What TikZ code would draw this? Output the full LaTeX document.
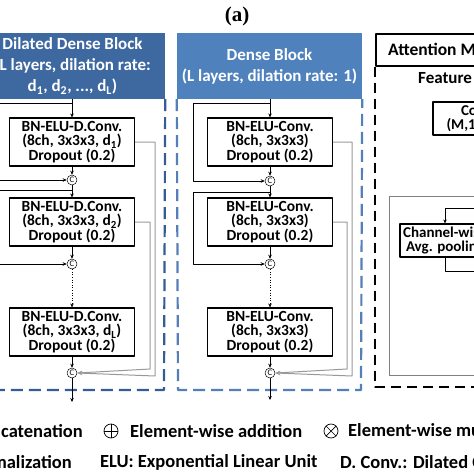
\documentclass[tikz,border=0pt]{standalone}
\usepackage{fontspec}
\setmainfont{Carlito}
\newfontfamily\capfont{Liberation Serif}
\usetikzlibrary{arrows.meta}
\definecolor{DDBblue}{RGB}{62,104,160}
\definecolor{DBblue}{RGB}{79,129,189}
\definecolor{DDBdash}{RGB}{52,92,150}
\definecolor{DBdash}{RGB}{84,128,184}

\begin{document}
\begin{tikzpicture}[x=1pt,y=-1pt,line join=round,
  hdr/.style={fill=#1,draw=none,text=white,align=center,minimum width=185,minimum height=66,inner sep=0pt,font=\bfseries\fontsize{17}{21}\selectfont},
  convbox/.style={draw,line width=1.2pt,fill=white,minimum width=125,minimum height=48,inner sep=0pt,align=center,font=\bfseries\fontsize{15.5}{14.5}\selectfont},
  attbox/.style={draw,line width=1.2pt,fill=white,minimum width=90,minimum height=33,inner sep=0pt,align=center,font=\bfseries\fontsize{15}{14}\selectfont},
  catnode/.style={circle,draw,line width=0.5pt,fill=white,minimum size=10,inner sep=0pt,font=\fontsize{8.5}{8.5}\selectfont},
  flow/.style={-{Stealth[length=4pt,width=3.5pt]},line width=0.6pt},
  skipline/.style={draw=gray!80,line width=1pt},
  bluedash/.style={draw=#1,line width=2.2pt,dash pattern=on 12pt off 6pt},
  blackdash/.style={draw=black,line width=2pt,dash pattern=on 10pt off 6pt},
  legend/.style={font=\bfseries\fontsize{18.5}{18.5}\selectfont,inner sep=0pt},
  opsym/.style={circle,draw,line width=0.7pt,minimum size=14,inner sep=0pt}]
\path[use as bounding box] (0,0) rectangle (474,474);
\clip (0,0) rectangle (474,474);

\node[font=\capfont\bfseries\fontsize{21}{21}\selectfont] (title) at (237,16) {(a)};

\node[hdr=DDBblue] (hdrA) at (72.5,66) {Dilated Dense Block\\(L layers, dilation rate:\\d\textsubscript{1}, d\textsubscript{2}, ..., d\textsubscript{L})};
\node[hdr=DBblue] (hdrB) at (269.5,66) {Dense Block\\(L layers, dilation rate: 1)};
\draw[bluedash=DDBdash] (hdrA.south east) -- (164,390) -- (-10,390);
\draw[bluedash=DBdash] (hdrB.south west) -- (178,390) -- (361,390) -- (hdrB.south east);

\node[convbox] (a1) at (72,142) {BN-ELU-D.Conv.\\(8ch, 3x3x3, d\textsubscript{1})\\Dropout (0.2)};
\node[convbox] (a2) at (72,222) {BN-ELU-D.Conv.\\(8ch, 3x3x3, d\textsubscript{2})\\Dropout (0.2)};
\node[convbox] (aL) at (72,332) {BN-ELU-D.Conv.\\(8ch, 3x3x3, d\textsubscript{L})\\Dropout (0.2)};
\node[catnode] (ac1) at (72,180) {C};
\node[catnode] (ac2) at (72,264) {C};
\node[catnode] (acf) at (72,373) {C};
\coordinate (aIn) at (72,103);
\coordinate (aJoin) at (72,190);
\coordinate (aOut) at (72,402);
\draw[flow] (hdrA.south -| aIn) -- (a1.north);
\draw[flow] (aIn) -- (-8,103) |- (ac1.west);
\draw[flow] (a1.south) -- (ac1.north);
\draw[flow] (ac1.south) -- (a2.north);
\draw[flow] (aJoin) -- (-8,190) |- (ac2.west);
\draw[flow] (a2.south) -- (ac2.north);
\draw[flow,dotted,line width=0.8pt] (ac2.south) -- (aL.north);
\draw[flow] (aL.south) -- (acf.north);
\draw[flow] (acf.south) -- (aOut);
\draw[skipline,-{Stealth[length=5pt,width=4pt]}] (a1.east) -- (155,142) -- (155,376) -- (acf.east);
\draw[skipline,-{Stealth[length=5pt,width=4pt]}] (a2.east) -- (150,222) -- (150,369) -- (acf.east);

\node[convbox] (b1) at (270,142) {BN-ELU-Conv.\\(8ch, 3x3x3)\\Dropout (0.2)};
\node[convbox] (b2) at (270,222) {BN-ELU-Conv.\\(8ch, 3x3x3)\\Dropout (0.2)};
\node[convbox] (bL) at (270,332) {BN-ELU-Conv.\\(8ch, 3x3x3)\\Dropout (0.2)};
\node[catnode] (bc1) at (270,181) {C};
\node[catnode] (bc2) at (270,264) {C};
\node[catnode] (bcf) at (270,373) {C};
\coordinate (bIn) at (270,103);
\coordinate (bJoin) at (270,192);
\coordinate (bOut) at (270,400);
\draw[flow] (hdrB.south -| bIn) -- (b1.north);
\draw[flow] (bIn) -- (193,103) |- (bc1.west);
\draw[flow] (b1.south) -- (bc1.north);
\draw[flow] (bc1.south) -- (b2.north);
\draw[flow] (bJoin) -- (193,192) |- (bc2.west);
\draw[flow] (b2.south) -- (bc2.north);
\draw[flow,dotted,line width=0.8pt] (bc2.south) -- (bL.north);
\draw[flow] (bL.south) -- (bcf.north);
\draw[flow] (bcf.south) -- (bOut);
\draw[skipline,-{Stealth[length=5pt,width=4pt]}] (b1.east) -- (352,142) -- (352,376) -- (bcf.east);
\draw[skipline,-{Stealth[length=5pt,width=4pt]}] (b2.east) -- (347,222) -- (347,369) -- (bcf.east);

\node[draw,line width=1.5pt,fill=white,minimum width=130,minimum height=32,anchor=north west,inner sep=0pt] (att) at (375,33) {};
\node[anchor=west,font=\bfseries\fontsize{17.5}{17.5}\selectfont,inner sep=0pt] (attname) at (388,49) {Attention Module};
\draw[blackdash] (att.south west) -- (375,387) -- (490,387);
\node[anchor=west,font=\bfseries\fontsize{17}{17}\selectfont,inner sep=0pt] (feat) at (418,78) {Feature};
\node[attbox] (conv) at (478,118.5) {Conv.\\(M,1x1x1)};
\draw[draw=gray,line width=1pt] (389,375) -- (389,196) -- (490,196);
\draw[draw=gray,line width=1pt] (389,375) -- (490,375);
\node[attbox] (chpool) at (445,240.5) {Channel-wise\\Avg. pooling};
\coordinate (chIn) at (490,208);
\coordinate (chOut) at (490,271);
\draw[flow] (chIn) -| (chpool.north);
\draw[line width=0.6pt] (chpool.south) |- (chOut);

\node[legend,anchor=east] (lcat) at (83,431) {Concatenation};
\node[opsym] (sadd) at (111,431) {};
\draw[line width=0.7pt] (sadd.north) -- (sadd.south) (sadd.west) -- (sadd.east);
\node[legend,anchor=west] (ladd) at (130,431) {Element-wise addition};
\node[opsym] (smul) at (331,431) {};
\draw[line width=0.7pt] (smul.north east) -- (smul.south west) (smul.north west) -- (smul.south east);
\node[legend,anchor=west] (lmul) at (348,431) {Element-wise multiplication};
\node[legend,anchor=east] (lbn) at (72,462) {BN: Batch Normalization};
\node[legend,anchor=west] (lelu) at (100,462) {ELU: Exponential Linear Unit};
\node[legend,anchor=west] (ldconv) at (340,462) {D. Conv.: Dilated Convolution};
\end{tikzpicture}
\end{document}
